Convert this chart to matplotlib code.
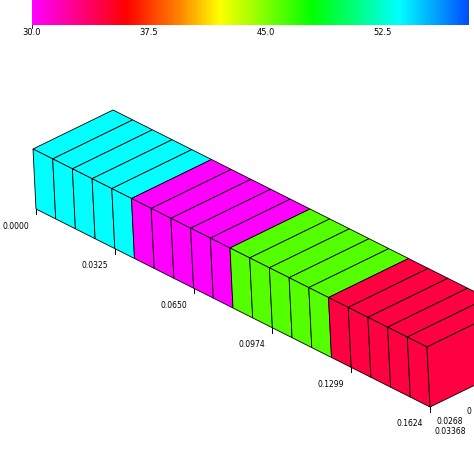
import numpy as np
import matplotlib
matplotlib.use("Agg")
import matplotlib.pyplot as plt
from matplotlib.colors import LinearSegmentedColormap
from matplotlib.patches import Polygon

# data
element_values = [53.6]*5 + [30]*5 + [46]*5 + [34.5]*5
length = 0.1624
depth = 0.03368
x_ticks = [0.0, 0.0325, 0.0650, 0.0974, 0.1299, 0.1624]
x_tick_labels = ["0.0000", "0.0325", "0.0650", "0.0974", "0.1299", "0.1624"]
cbar_ticks = [30.0, 37.5, 45.0, 52.5]
vmin, vmax = 30.0, 58.0

cmap = LinearSegmentedColormap.from_list("c", [
    (0.0, "#ff00ff"), ((36-30)/28, "#ff0000"), ((39.5-30)/28, "#ff8800"),
    ((42-30)/28, "#ffff00"), ((48-30)/28, "#00ff00"), ((53.6-30)/28, "#00ffff"),
    (1.0, "#0050ff")])

fig = plt.figure(figsize=(4.74, 4.74), dpi=100)
ax = fig.add_axes([0, 0, 1, 1])
ax.set_xlim(0, 474); ax.set_ylim(474, 0); ax.axis("off")

x0, pxper = 32, 117/7.5
grad = np.linspace(vmin, vmax, 400).reshape(1, -1)
ax.imshow(grad, cmap=cmap, vmin=vmin, vmax=vmax, aspect="auto",
          extent=(x0, x0 + (vmax-vmin)*pxper, 25, 0), zorder=1)
ax.plot([x0, x0], [25, 28], color="k", lw=0.6)
for t in cbar_ticks:
    ax.text(x0 + (t-vmin)*pxper, 32, f"{t:.1f}", fontsize=6, ha="center", va="center")

O = np.array([36.0, 209.0])
ex = np.array([394.0, 198.0]) / length
ey = np.array([80.0, -39.0]) / depth
ez = np.array([-3.0, -60.0])
def P(x, y, z):
    return O + ex*x + ey*y + ez*z

n = len(element_values)
edges = np.linspace(0, length, n+1)
for i, v in enumerate(element_values):
    c = cmap((v - vmin)/(vmax - vmin))
    a, b = edges[i], edges[i+1]
    front = [P(a,0,0), P(b,0,0), P(b,0,1), P(a,0,1)]
    top = [P(a,0,1), P(b,0,1), P(b,depth,1), P(a,depth,1)]
    ax.add_patch(Polygon(top, closed=True, fc=c, ec="k", lw=0.6, zorder=2))
    ax.add_patch(Polygon(front, closed=True, fc=c, ec="k", lw=0.6, zorder=3))
    if i == n-1:
        end = [P(b,0,0), P(b,depth,0), P(b,depth,1), P(b,0,1)]
        ax.add_patch(Polygon(end, closed=True, fc=c, ec="k", lw=0.6, zorder=3))

for t, lab in zip(x_ticks, x_tick_labels):
    p = P(t, 0, 0)
    ax.plot([p[0], p[0]], [p[1], p[1]+5], color="k", lw=0.7, zorder=4)
    ax.text(p[0]-20, p[1]+17, lab, fontsize=5.5, ha="center", va="center", zorder=4)
p = P(length, depth, 0)
ax.plot([p[0], p[0]], [p[1], p[1]+5], color="k", lw=0.7, zorder=4)
ax.text(437, 421, "0.0268", fontsize=5.5, ha="left", va="center")
ax.text(435, 431, "0.03368", fontsize=5.5, ha="left", va="center")
ax.text(467, 411, "0", fontsize=5.5, ha="left", va="center")

fig.savefig("out.png", dpi=100)
